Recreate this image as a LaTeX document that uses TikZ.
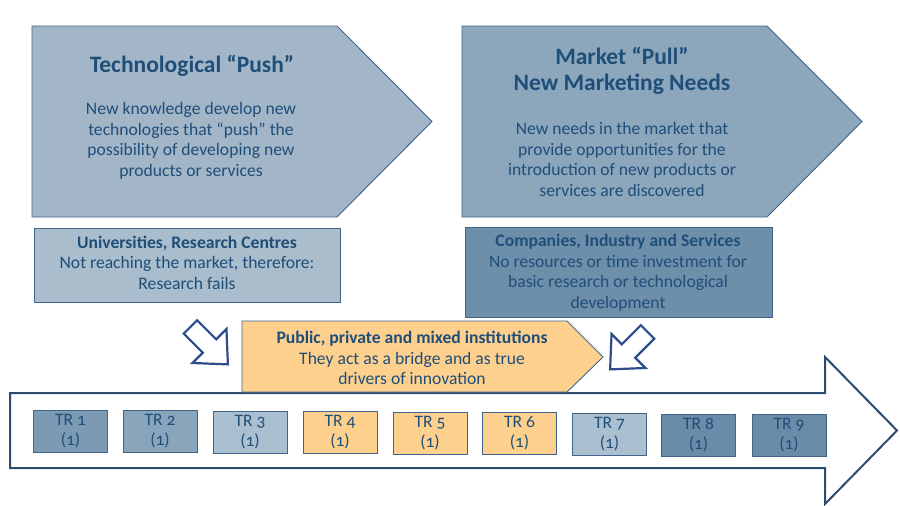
\documentclass[tikz,border=0pt]{standalone}
\usepackage{fontspec}
\setmainfont{Carlito}[Numbers=OldStyle]
\definecolor{txt}{HTML}{1F4E79}
\definecolor{edge}{HTML}{41648A}
\definecolor{pushf}{HTML}{A2B6C8}
\definecolor{pullf}{HTML}{8CA6BC}
\definecolor{unif}{HTML}{A9BDCD}
\definecolor{compf}{HTML}{6E8FAA}
\definecolor{orf}{HTML}{FDD08E}
\definecolor{trA}{HTML}{7C9AB3}
\definecolor{trB}{HTML}{88A5BC}
\definecolor{trL}{HTML}{AABFCF}
\definecolor{trD}{HTML}{6B8CA8}
\definecolor{arr}{HTML}{2E4D8C}
\definecolor{bigedge}{HTML}{2B4C6E}
\tikzset{
  shapeline/.style={draw=edge, line width=0.9pt},
  titletext/.style={text=txt, align=center, inner sep=0pt, font=\fontsize{23.5}{26.5}\selectfont\bfseries},
  bodytext/.style={text=txt, align=center, inner sep=0pt, font=\fontsize{17.6}{20.5}\selectfont},
  trbox/.style={draw=edge, line width=0.9pt, minimum width=74pt, minimum height=42pt, inner sep=0pt,
    text=txt, align=center, font=\fontsize{17.5}{20}\selectfont},
  hollow/.style={draw=arr, line width=2.2pt, fill=white, line join=miter},
}
\begin{document}
\begin{tikzpicture}[x=1pt,y=-1pt]
\useasboundingbox (0,0) rectangle (900,506);
% big timeline arrow
\draw[draw=bigedge, line width=2pt, fill=white, line join=miter]
  (10,393) -- (825,393) -- (825,357) -- (897,430.5) -- (825,504) -- (825,468) -- (10,468) -- cycle;
% push / pull pentagons
\draw[shapeline, fill=pushf] (32,26) -- (337,26) -- (432,121.5) -- (337,217) -- (32,217) -- cycle;
\draw[shapeline, fill=pullf] (462,26) -- (767,26) -- (862,121.5) -- (767,217) -- (462,217) -- cycle;
% boxes
\draw[shapeline, fill=unif] (34,228) rectangle (340,302);
\draw[shapeline, fill=compf] (465,227) rectangle (772,317);
\draw[shapeline, fill=orf] (242,321) -- (567,321) -- (603,357) -- (567,392) -- (242,392) -- cycle;
% hollow arrows
\begin{scope}[shift={(209.5,346)}, rotate=-45]
\draw[hollow] (-27,-9.5) -- (0,-9.5) -- (0,-24) -- (26,0) -- (0,24) -- (0,9.5) -- (-27,9.5) -- cycle;
\end{scope}
\begin{scope}[shift={(628.5,351)}, rotate=-135]
\draw[hollow] (-27,-9.5) -- (0,-9.5) -- (0,-24) -- (26,0) -- (0,24) -- (0,9.5) -- (-27,9.5) -- cycle;
\end{scope}
% texts
\node[titletext] (pusht) at (192,65.5) {Technological “Push”};
\node[bodytext] (pushb) at (191,141) {New knowledge develop new\\technologies that “push” the\\possibility of developing new\\products or services};
\node[titletext] (pullt) at (622,71) {Market “Pull”\\New Marketing Needs};
\node[bodytext] (pullb) at (622,159.5) {New needs in the market that\\provide opportunities for the\\introduction of new products or\\services are discovered};
\node[bodytext] (uni) at (187,262.5) {\textbf{Universities, Research Centres}\\Not reaching the market, therefore:\\Research fails};
\node[bodytext] (comp) at (618,272.5) {\textbf{Companies, Industry and Services}\\No resources or time investment for\\basic research or technological\\development};
\node[bodytext] (inst) at (412,358) {\textbf{Public, private and mixed institutions}\\They act as a bridge and as true\\drivers of innovation};
% TR boxes
\node[trbox, fill=trA] (tr1) at (70.5,431) {TR 1\\(1)};
\node[trbox, fill=trB] (tr2) at (160,431.5) {TR 2\\(1)};
\node[trbox, fill=trL] (tr3) at (250,432) {TR 3\\(1)};
\node[trbox, fill=orf] (tr4) at (340,432.5) {TR 4\\(1)};
\node[trbox, fill=orf] (tr5) at (430,433) {TR 5\\(1)};
\node[trbox, fill=orf] (tr6) at (519.5,433.5) {TR 6\\(1)};
\node[trbox, fill=trL] (tr7) at (609.5,434.5) {TR 7\\(1)};
\node[trbox, fill=trD] (tr8) at (698.5,435) {TR 8\\(1)};
\node[trbox, fill=trD] (tr9) at (789,435) {TR 9\\(1)};
\end{tikzpicture}
\end{document}
